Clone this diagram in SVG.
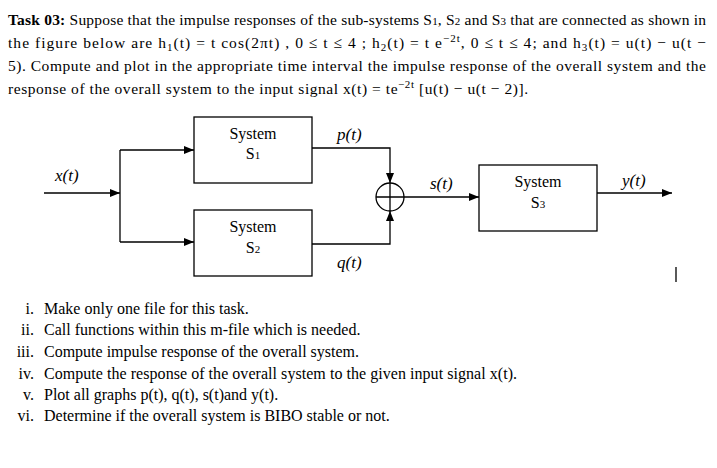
<svg xmlns="http://www.w3.org/2000/svg" width="717" height="468" viewBox="0 0 717 468" font-family="Liberation Serif, Times New Roman, DejaVu Serif, serif" font-size="15.5">
<style>
.m{font-style:italic;font-size:17px}
.b{fill:#fff;stroke:#000;stroke-width:1.3}
.l{fill:none;stroke:#000;stroke-width:1.3}
.c{text-anchor:middle}
.r{text-anchor:end}
</style>
<defs><marker id="a" markerWidth="10" markerHeight="8" refX="10" refY="4" orient="auto" markerUnits="userSpaceOnUse"><path d="M0,0L10,4L0,8z"/></marker></defs>
<rect width="717" height="468" fill="#fff"/>
<text x="8" y="25" textLength="698" lengthAdjust="spacing"><tspan font-weight="bold">Task 03:</tspan> Suppose that the impulse responses of the sub-systems S<tspan font-size="11">1</tspan>, S<tspan font-size="11">2</tspan> and S<tspan font-size="11">3</tspan> that are connected as shown in</text>
<text x="8" y="48" textLength="698" lengthAdjust="spacing">the figure below are h<tspan font-size="11" dy="3">1</tspan><tspan dy="-3">(t) = t cos(2πt) , 0  ≤ t  ≤ 4 ; h</tspan><tspan font-size="11" dy="3">2</tspan><tspan dy="-3">(t) = t e</tspan><tspan font-size="11" dy="-6">−2t</tspan><tspan dy="6">, 0  ≤ t  ≤ 4; and h</tspan><tspan font-size="11" dy="3">3</tspan><tspan dy="-3">(t) = u(t) −  u(t −</tspan></text>
<text x="8" y="71" textLength="698" lengthAdjust="spacing">5). Compute and plot in the appropriate time interval the impulse response of the overall system and the</text>
<text x="8" y="94" textLength="520" lengthAdjust="spacing">response of the overall system to the input signal x(t) = te<tspan font-size="11" dy="-6">−2t</tspan><tspan dy="6"> [u(t) −  u(t − 2)].</tspan></text>
<g id="conn">
<path class="l" d="M44,193H120" marker-end="url(#a)"/>
<path class="l" d="M120,150V242"/>
<path class="l" d="M120,150H194" marker-end="url(#a)"/>
<path class="l" d="M120,242H194" marker-end="url(#a)"/>
<path class="l" d="M312,148H390V183" marker-end="url(#a)"/>
<path class="l" d="M312,244H390V211" marker-end="url(#a)"/>
<path class="l" d="M404,197H479" marker-end="url(#a)"/>
<path class="l" d="M597,193H672" marker-end="url(#a)"/>
<path class="l" d="M676,267V282"/>
</g>
<g id="s1"><rect class="b" x="194" y="117" width="118" height="66"/><text class="c" x="253" y="139" font-size="16">System</text><text class="c" x="253" y="159" font-size="16">S<tspan font-size="11">1</tspan></text></g>
<g id="s2"><rect class="b" x="194" y="210" width="118" height="66"/><text class="c" x="253" y="232" font-size="16">System</text><text class="c" x="253" y="253" font-size="16">S<tspan font-size="11">2</tspan></text></g>
<g id="s3"><rect class="b" x="479" y="165" width="118" height="66"/><text class="c" x="538" y="187" font-size="16">System</text><text class="c" x="538" y="208" font-size="16">S<tspan font-size="11">3</tspan></text></g>
<g id="sum"><circle class="b" cx="390" cy="197" r="14"/><path class="l" d="M376,197H404M390,183V211"/></g>
<text class="m" x="55" y="181">x(t)</text>
<text class="m" x="337" y="140">p(t)</text>
<text class="m" x="337" y="268">q(t)</text>
<text class="m" x="430" y="189">s(t)</text>
<text class="m" x="622" y="186">y(t)</text>
<g font-size="16">
<text class="r" x="34" y="314">i.</text><text x="44" y="314">Make only one file for this task.</text>
<text class="r" x="34" y="335">ii.</text><text x="44" y="335">Call functions within this m-file which is needed.</text>
<text class="r" x="34" y="357">iii.</text><text x="44" y="357">Compute impulse response of the overall system.</text>
<text class="r" x="34" y="379">iv.</text><text x="44" y="379" textLength="473" lengthAdjust="spacing">Compute the response of the overall system to the given input signal x(t).</text>
<text class="r" x="34" y="400">v.</text><text x="44" y="400">Plot all graphs p(t), q(t), s(t)and y(t).</text>
<text class="r" x="34" y="421">vi.</text><text x="44" y="421">Determine if the overall system is BIBO stable or not.</text>
</g>
</svg>
